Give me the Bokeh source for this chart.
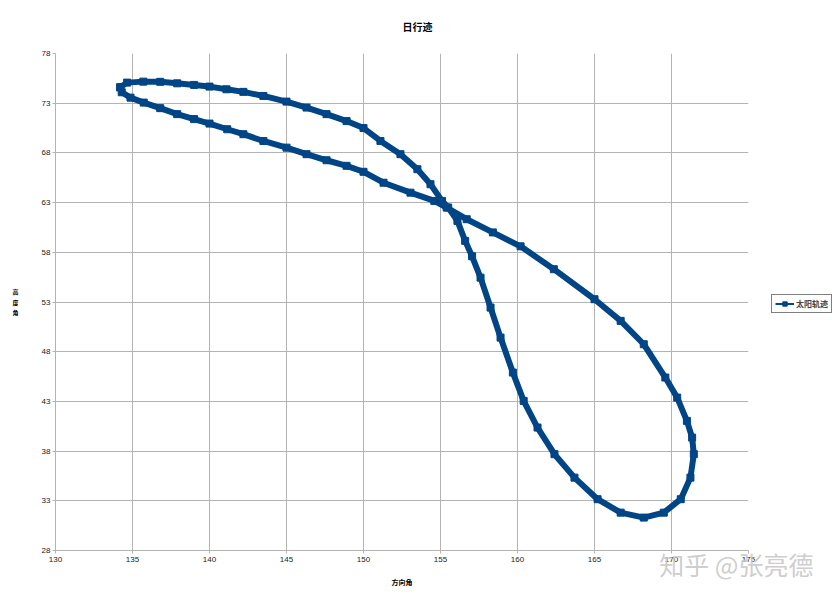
from bokeh.plotting import figure
from bokeh.models import Legend, LegendItem, FixedTicker, Title
from bokeh.embed import file_html
from bokeh.resources import INLINE

# Sun path (azimuth, altitude), traced around the figure-8
azimuth = [134.2, 134.65, 135.7, 136.8, 137.9, 139.0, 140.0, 141.1, 142.2, 143.5,
           145.0, 146.3, 147.6, 148.9, 150.0,
           151.1, 152.4, 153.5, 154.35, 155.1, 155.5, 156.1, 156.6, 157.05, 157.6,
           158.25, 158.9, 159.7, 160.4, 161.3, 162.4, 163.7, 165.2, 166.7, 168.2,
           169.5, 170.6, 171.23, 171.45, 171.34, 171.0, 170.37, 169.6, 168.2, 166.7,
           165.0, 162.36, 160.2, 158.4, 156.7, 155.4, 154.6, 153.05, 151.3, 150.0,
           148.9, 147.6, 146.3, 145.0, 143.5, 142.2, 141.15, 140.0, 139.0, 137.9,
           136.8, 135.73, 134.87, 134.3, 134.2]
altitude = [74.6, 75.07, 75.17, 75.15, 75.0, 74.84, 74.67, 74.4, 74.14, 73.73,
            73.16, 72.56, 71.9, 71.2, 70.5,
            69.2, 67.87, 66.36, 64.85, 63.17, 62.5, 61.16, 59.15, 57.6, 55.45,
            52.44, 49.42, 45.9, 43.05, 40.37, 37.69, 35.33, 33.16, 31.81, 31.31,
            31.81, 33.16, 35.33, 37.69, 39.36, 41.04, 43.38, 45.4, 48.75, 51.1,
            53.28, 56.3, 58.6, 60.0, 61.33, 62.5, 63.17, 64.0, 65.0, 66.1,
            66.7, 67.26, 67.87, 68.53, 69.2, 69.88, 70.38, 70.95, 71.4, 71.9,
            72.5, 73.06, 73.56, 74.1, 74.6]

x_ticks = [130, 135, 140, 145, 150, 155, 160, 165, 170, 175]
y_ticks = [28, 33, 38, 43, 48, 53, 58, 63, 68, 73, 78]

title_text = "日行迹"
x_label = "方向角"
y_label = "高\n度\n角"
series_name = "太阳轨迹"
watermark = "知乎 @张亮德"

BLUE = "#004586"
GRID = "#b3b3b3"
CJK = "Noto Sans CJK SC"

p = figure(frame_width=693, frame_height=497, x_range=(130, 175), y_range=(28, 78),
           output_backend="svg", toolbar_location=None,
           min_border_left=55, min_border_right=85, min_border_top=53, min_border_bottom=51)

p.title.text = title_text
p.title.align = "left"
p.title.offset = 347
p.title.vertical_align = "top"
p.title.standoff = 36
p.title.text_font = CJK
p.title.text_font_size = "10px"
p.title.text_font_style = "bold"
p.title.text_color = "#000000"

p.outline_line_color = None
p.background_fill_color = "white"

for ax in (p.xaxis[0], p.yaxis[0]):
    ax.axis_line_color = GRID
    ax.major_tick_line_color = GRID
    ax.minor_tick_line_color = None
    ax.major_tick_in = 0
    ax.major_tick_out = 3
    ax.major_label_text_font = "Liberation Sans"
    ax.major_label_text_font_size = "8px"
    ax.major_label_text_color = "#222222"
    ax.axis_label_text_font = CJK
    ax.axis_label_text_font_size = "7px"
    ax.axis_label_text_font_style = "bold"
    ax.axis_label_text_color = "#000000"

p.xaxis.ticker = FixedTicker(ticks=x_ticks)
p.yaxis.ticker = FixedTicker(ticks=y_ticks)
p.xaxis.major_label_standoff = 3
p.yaxis.major_label_standoff = 2
p.xaxis.axis_label = x_label
p.xaxis.axis_label_standoff = 12
p.yaxis.axis_label = y_label
p.yaxis.axis_label_orientation = "horizontal"
p.yaxis.axis_label_standoff = 20
p.yaxis.axis_label_text_font_size = "6px"

p.xgrid.ticker = FixedTicker(ticks=x_ticks)
p.ygrid.ticker = FixedTicker(ticks=y_ticks)
p.grid.grid_line_color = GRID
p.grid.grid_line_width = 1

r_thick = p.line(azimuth, altitude, line_width=6, color=BLUE)
r_thin = p.line(azimuth, altitude, line_width=2, color=BLUE)
r_pts = p.scatter(azimuth, altitude, marker="square", size=7, color=BLUE)

legend = Legend(items=[LegendItem(label=series_name, renderers=[r_thin, r_pts])],
                location=(23, 237))
legend.border_line_color = "#000000"
legend.border_line_width = 1
legend.padding = 3
legend.margin = 0
legend.spacing = 0
legend.glyph_width = 19
legend.glyph_height = 11
legend.label_height = 11
legend.label_standoff = 2
legend.label_text_font = CJK
legend.label_text_font_size = "8px"
legend.label_text_font_style = "bold"
legend.background_fill_color = "white"
legend.background_fill_alpha = 1
p.add_layout(legend, "right")

wm = Title(text=watermark, align="right", offset=-65, vertical_align="top",
           standoff=-88, text_font=CJK, text_font_size="25px",
           text_font_style="normal", text_color="#c8c8c8", text_alpha=0.9)
p.add_layout(wm, "below")

open("out.html", "w").write(file_html(p, INLINE))
